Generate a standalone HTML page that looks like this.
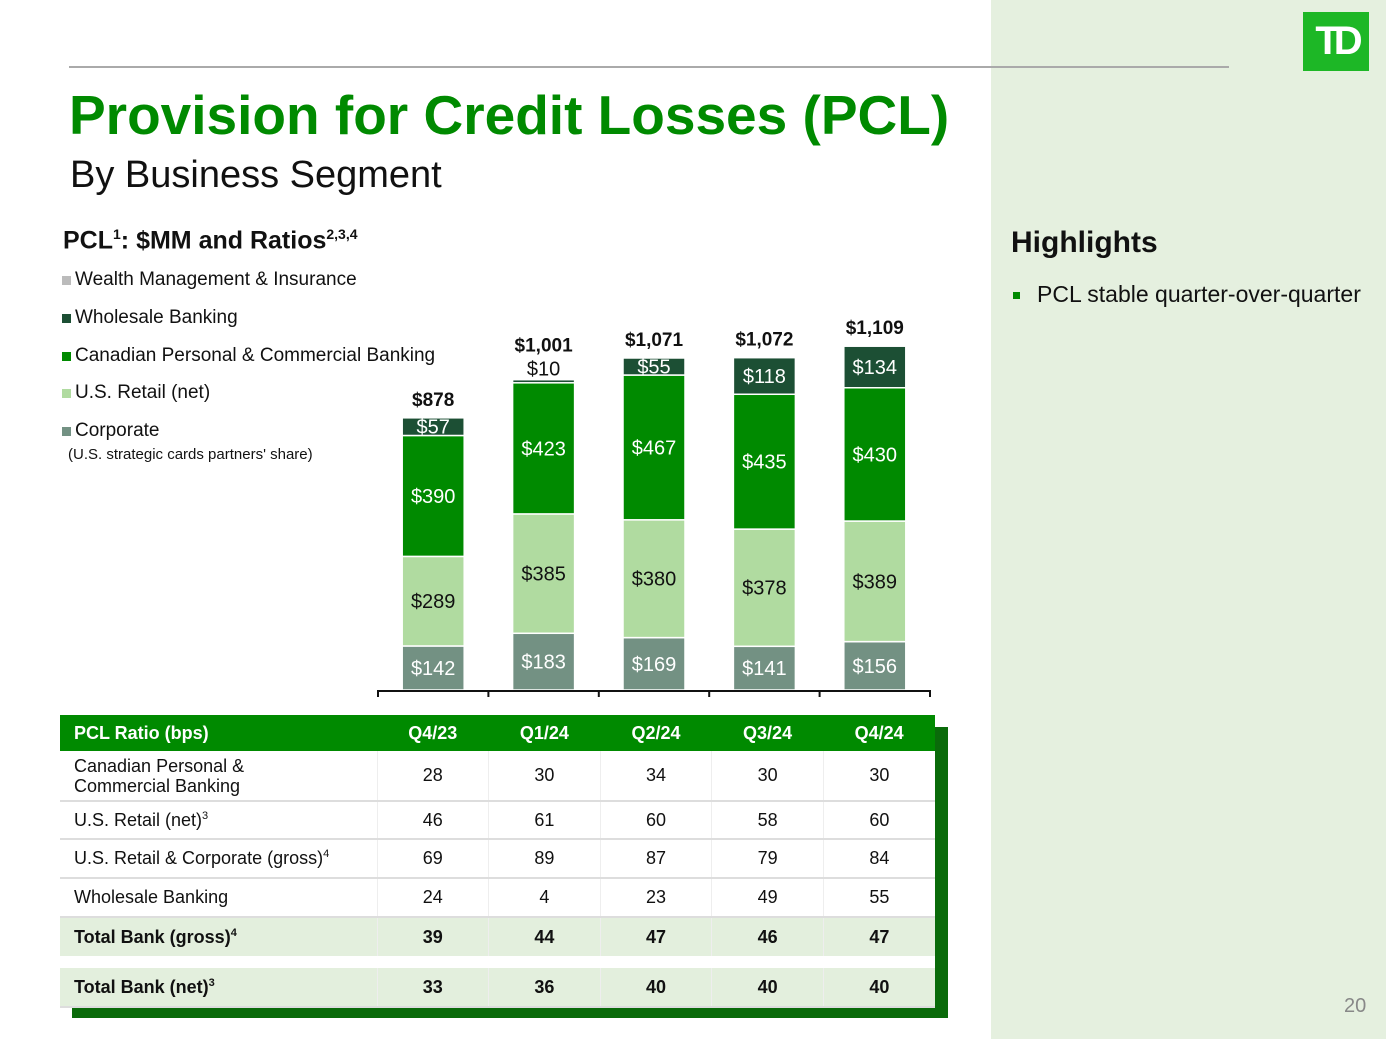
<!DOCTYPE html>
<html><head><meta charset="utf-8"><style>
body{margin:0;width:1386px;height:1039px;position:relative;background:#fff;font-family:"Liberation Sans",sans-serif;overflow:hidden}
.abs{position:absolute}
#tbl{position:absolute;left:60px;top:715px;width:875px;border-collapse:collapse;font-size:18px;color:#111}
#tbl td{padding:0;text-align:center;border-bottom:2px solid #ddd;border-left:1px solid #eee}
#tbl td:first-child{text-align:left;padding-left:14px;border-left:none}
#tbl tr.hd td{background:#008a00;color:#fff;font-weight:bold;height:36px;border:none}
#tbl tr.tot td{background:#e3efdd;font-weight:bold}
sup{font-size:11px}
</style></head><body>
<div class="abs" style="left:991px;top:0;width:395px;height:1039px;background:#e5f0df"></div>
<div class="abs" style="left:69px;top:66px;width:1160px;height:2px;background:#aaa"></div>
<div class="abs" style="left:1303px;top:12px;width:66px;height:59px;background:#1db726;color:#fff;font-weight:bold;font-size:40px;line-height:59px;text-align:center;letter-spacing:-6px">TD</div>
<div class="abs" style="left:69px;top:83px;font-size:55px;font-weight:bold;color:#008a00">Provision for Credit Losses (PCL)</div>
<div class="abs" style="left:70px;top:154px;font-size:38px;color:#111">By Business Segment</div>
<div class="abs" style="left:63px;top:226px;font-size:25px;font-weight:bold;color:#111">PCL<sup style="font-size:14px">1</sup>: $MM and Ratios<sup style="font-size:14px">2,3,4</sup></div>
<div class="abs" style="left:1011px;top:226px;font-size:30px;font-weight:bold;color:#111">Highlights</div>
<div class="abs" style="left:1013px;top:281px;font-size:23px;color:#111"><span style="display:inline-block;width:7px;height:7px;background:#008a00;vertical-align:middle;margin-right:17px"></span>PCL stable quarter-over-quarter</div>
<div class="abs" style="left:1344px;top:995px;font-size:20px;color:#888">20</div>
<div class="abs" style="left:62px;top:270px;font-size:19px;color:#111;line-height:20px">
<div style="position:absolute;top:0;white-space:nowrap"><span style="display:inline-block;width:9px;height:9px;background:#bbb;margin-right:4px"></span>Wealth Management &amp; Insurance</div>
<div style="position:absolute;top:38px;white-space:nowrap"><span style="display:inline-block;width:9px;height:9px;background:#1c4f34;margin-right:4px"></span>Wholesale Banking</div>
<div style="position:absolute;top:76px;white-space:nowrap"><span style="display:inline-block;width:9px;height:9px;background:#008a00;margin-right:4px"></span>Canadian Personal &amp; Commercial Banking</div>
<div style="position:absolute;top:113px;white-space:nowrap"><span style="display:inline-block;width:9px;height:9px;background:#b0dba0;margin-right:4px"></span>U.S. Retail (net)</div>
<div style="position:absolute;top:151px;white-space:nowrap"><span style="display:inline-block;width:9px;height:9px;background:#739183;margin-right:4px"></span>Corporate<div style="font-size:15px;margin-left:6px;margin-top:4px">(U.S. strategic cards partners' share)</div></div>
</div>
<svg id="chart" class="abs" style="left:0;top:0" width="1386" height="1039"></svg>
<div class="abs" style="left:72px;top:727px;width:876px;height:291px;background:#0a6b0a"></div>
<table id="tbl">
<colgroup><col style="width:317px"><col><col><col><col><col></colgroup>
<tr class="hd"><td>PCL Ratio (bps)</td><td>Q4/23</td><td>Q1/24</td><td>Q2/24</td><td>Q3/24</td><td>Q4/24</td></tr>
<tr style="height:50px;background:#fff"><td style="line-height:20px">Canadian Personal &amp;<br>Commercial Banking</td><td>28</td><td>30</td><td>34</td><td>30</td><td>30</td></tr>
<tr style="height:38px;background:#fff"><td>U.S. Retail (net)<sup>3</sup></td><td>46</td><td>61</td><td>60</td><td>58</td><td>60</td></tr>
<tr style="height:39px;background:#fff"><td>U.S. Retail &amp; Corporate (gross)<sup>4</sup></td><td>69</td><td>89</td><td>87</td><td>79</td><td>84</td></tr>
<tr style="height:39px;background:#fff"><td>Wholesale Banking</td><td>24</td><td>4</td><td>23</td><td>49</td><td>55</td></tr>
<tr class="tot" style="height:39px"><td style="border-bottom:none">Total Bank (gross)<sup>4</sup></td><td style="border-bottom:none">39</td><td style="border-bottom:none">44</td><td style="border-bottom:none">47</td><td style="border-bottom:none">46</td><td style="border-bottom:none">47</td></tr>
<tr style="height:12px;background:#fff"><td style="border:none"></td><td style="border:none"></td><td style="border:none"></td><td style="border:none"></td><td style="border:none"></td><td style="border:none"></td></tr>
<tr class="tot" style="height:39px"><td>Total Bank (net)<sup>3</sup></td><td>33</td><td>36</td><td>40</td><td>40</td><td>40</td></tr>
</table>
<script>
const quarters=["Q4/23","Q1/24","Q2/24","Q3/24","Q4/24"];
const corporate=[142,183,169,141,156];
const usRetail=[289,385,380,378,389];
const canadian=[390,423,467,435,430];
const wholesale=[57,10,55,118,134];
const totals=["$878","$1,001","$1,071","$1,072","$1,109"];
const NS="http://www.w3.org/2000/svg";
const svg=document.getElementById('chart');
const base=690, k=0.31, x0=378, step=110.4, bw=62;
const xC=i=>x0+step*(i+0.5);
const yH=v=>v*k;
function mk(t,a){const e=document.createElementNS(NS,t);for(const n in a)e.setAttribute(n,a[n]);svg.appendChild(e);return e;}
const series=[[corporate,"#739183","#fff","corporate"],[usRetail,"#b0dba0","#111","us-retail"],[canadian,"#008a00","#fff","canadian"],[wholesale,"#1c4f34","#fff","wholesale"]];
quarters.forEach((q,i)=>{
  let y=base;
  series.forEach(([arr,col,tc,nm])=>{
    const h=yH(arr[i]);y-=h;
    const r=mk('rect',{x:xC(i)-bw/2,y:y,width:bw,height:h,fill:col,stroke:"#fff","stroke-width":1.5});
    
    
    const ty=nm==="wholesale"&&h<8?y-4:y+h/2+7;
    const t=mk('text',{x:xC(i),y:ty,"text-anchor":"middle","font-size":20,fill:(h<8?"#111":tc),"font-family":"Liberation Sans"});
    t.textContent="$"+arr[i];
    
    
  });
  const small=yH(wholesale[i])<8;
  const t=mk('text',{x:xC(i),y:y-(small?28:12),"text-anchor":"middle","font-size":19,"font-weight":"bold",fill:"#111","font-family":"Liberation Sans"});
  t.textContent=totals[i];
  
  
});
const ax=mk('line',{x1:x0,x2:x0+step*5,y1:base+1,y2:base+1,stroke:"#111","stroke-width":2});


for(let i=0;i<=5;i++){const tk=mk('line',{x1:x0+step*i,x2:x0+step*i,y1:base,y2:base+7,stroke:"#111","stroke-width":2});

}
</script>
</body></html>
